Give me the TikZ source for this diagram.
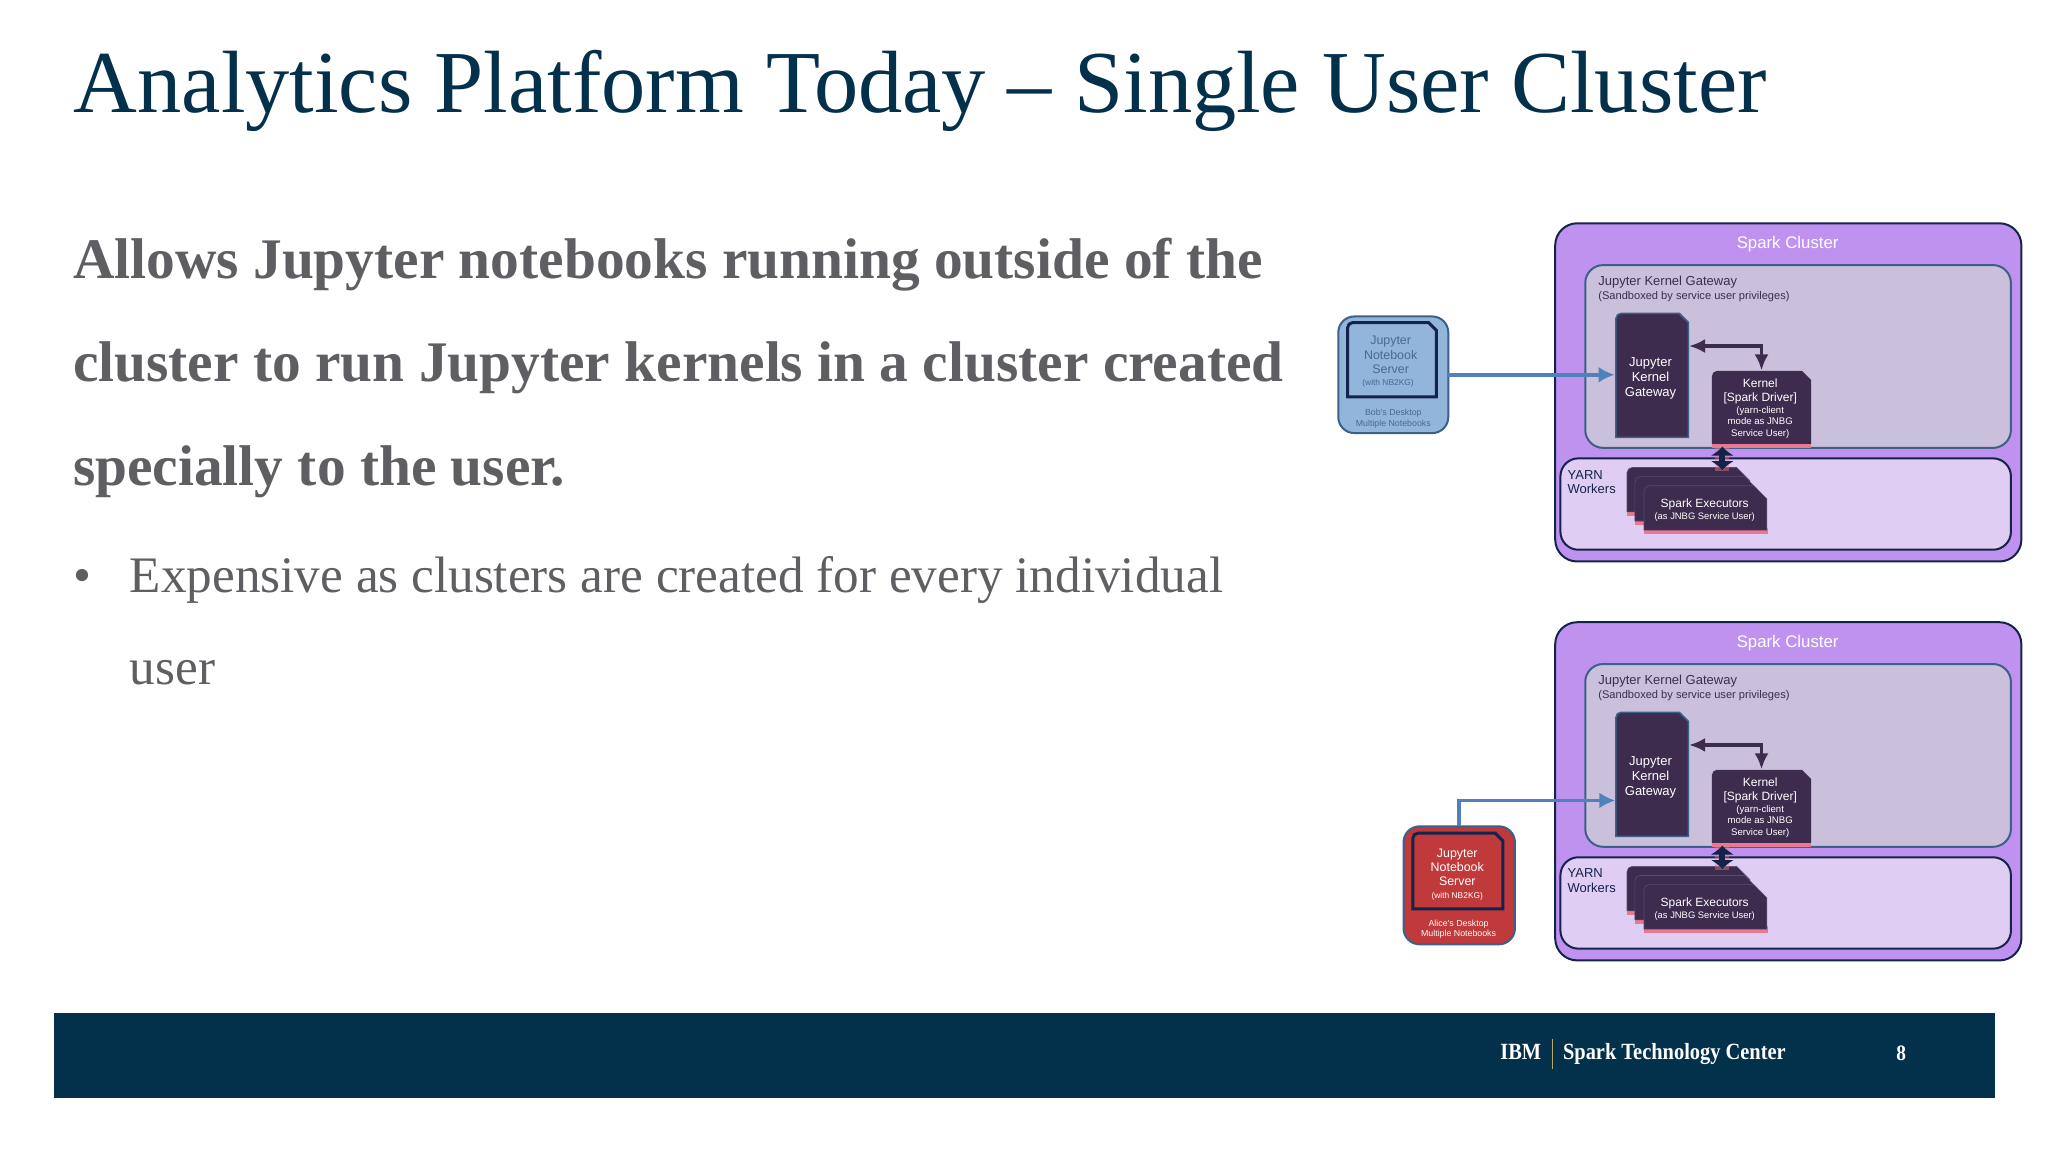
\documentclass[tikz,border=0pt]{standalone}
\usepackage{fontspec}
\setmainfont{Liberation Serif}
\setsansfont{Liberation Sans}
\newfontfamily\footfont[FakeStretch=0.88]{Liberation Serif Bold}
\usetikzlibrary{arrows.meta}

\definecolor{barblue}{HTML}{03304A}
\definecolor{bodygray}{HTML}{5F5F63}
\definecolor{clusterpurple}{HTML}{BF92F0}
\definecolor{gatelilac}{HTML}{CBC0DB}
\definecolor{yarnlilac}{HTML}{E0CDF3}
\definecolor{darkplum}{HTML}{3D2C4E}
\definecolor{stackedge}{HTML}{5A4A6E}
\definecolor{darknavy}{HTML}{14234A}
\definecolor{edgeblue}{HTML}{3D6088}
\definecolor{glowpink}{HTML}{E9798F}
\definecolor{flowblue}{HTML}{4F81BD}
\definecolor{bobblue}{HTML}{92B5DC}
\definecolor{bobtext}{HTML}{49698F}
\definecolor{alicered}{HTML}{C0393B}
\definecolor{sepgold}{HTML}{B9A95E}

% one tab shaped outline: x0, y0, x1, y1, cut
\newcommand{\tabshape}[5]{(#1,#4) -- (#1,#2+4) to[out=90,in=180] (#1+4,#2) -- (#3-#5,#2) -- (#3,#2+#5) -- (#3,#4) -- cycle}
\newcommand{\sizept}[2]{\fontsize{#1}{#2}\selectfont}

\tikzset{
  every node/.style={inner sep=0pt,outer sep=0pt},
  titletext/.style={anchor=base west,text=barblue,font=\sizept{44.2}{48}},
  leadtext/.style={anchor=base west,text=bodygray,font=\sizept{28.7}{32}\bfseries},
  bullettext/.style={anchor=base west,text=bodygray,font=\sizept{25.6}{28}},
  foottext/.style={anchor=base west,text=white,font=\footfont\sizept{11.6}{13}},
  clusterbox/.style={draw=darknavy,fill=clusterpurple,line width=1pt,rounded corners=11pt},
  gatebox/.style={draw=edgeblue,fill=gatelilac,line width=1pt,rounded corners=9pt},
  yarnbox/.style={draw=darknavy,fill=yarnlilac,line width=1pt,rounded corners=9pt},
  tabfill/.style={fill=darkplum},
  whitetext/.style={text=white,font=\sffamily\sizept{6.5}{7.5},align=center},
  kerneltext/.style={text=white,font=\sffamily\sizept{6}{7},align=center},
  smalltext/.style={text=white,font=\sffamily\sizept{4.8}{5.7},align=center},
  gatetext/.style={anchor=base west,text=darkplum,font=\sffamily\sizept{6.5}{7}},
  gatesmall/.style={anchor=base west,text=darkplum,font=\sffamily\sizept{5.55}{6}},
  desktext/.style={font=\sffamily\sizept{6.2}{7.2},align=center},
  desksmall/.style={font=\sffamily\sizept{4.4}{5.4},align=center},
  flow/.style={draw=flowblue,line width=1.9pt,-{Latex[length=8pt,width=8pt]}},
  kernelflow/.style={draw=darkplum,line width=1.7pt,{Latex[length=8pt,width=7pt]}-{Latex[length=8pt,width=7pt]}},
  driverflow/.style={draw=darknavy,line width=3pt,{Latex[length=4.5pt,width=12pt]}-{Latex[length=4.5pt,width=12pt]}},
}

\begin{document}
\begin{tikzpicture}[x=0.6529pt,y=-0.6529pt]

  \fill[white] (0,0) rectangle (1568.4,882.2);
  \useasboundingbox (0,0) rectangle (1568.4,882.2);

  % title and text
  \node[titletext] (title) at (56.5,86) {Analytics Platform Today – Single User Cluster};
  \node[leadtext] (lead1) at (56,213) {Allows Jupyter notebooks running outside of the};
  \node[leadtext] (lead2) at (56,292) {cluster to run Jupyter kernels in a cluster created};
  \node[leadtext] (lead3) at (56,371.5) {specially to the user.};
  \node[bullettext] (dot) at (56,454) {•};
  \node[bullettext] (bullet1) at (99.5,454) {Expensive as clusters are created for every individual};
  \node[bullettext] (bullet2) at (99.5,524.5) {user};

  % footer
  \fill[barblue] (41,776) rectangle (1527.5,840.5);
  \node[foottext] (ibm) at (1149,811) {IBM};
  \draw[sepgold,line width=0.7pt] (1189,796) -- (1189,819);
  \node[foottext] (stc) at (1197,811) {Spark Technology Center};
  \node[anchor=base,text=white,font=\footfont\sizept{11}{12}] (page) at (1456,812) {8};

  % the two clusters
  \foreach \i/\yy in {A/0,B/305.5} {
    \begin{scope}[shift={(0,\yy)}]
      \draw[clusterbox] (1191,171) rectangle (1548,430);
      \node[text=white,font=\sffamily\sizept{8.4}{10}] (spark\i) at (1369,187) {Spark Cluster};

      \draw[gatebox] (1214,203) rectangle (1540,343);
      \node[gatetext] (gatename\i) at (1224,218.5) {Jupyter Kernel Gateway};
      \node[gatesmall] (gatenote\i) at (1224,229.5) {(Sandboxed by service user privileges)};

      \draw[yarnbox] (1195,351) rectangle (1540,421);
      \node[anchor=north west,text=darknavy,font=\sffamily\sizept{6.5}{7.2},align=left] (yarn\i) at (1200.5,360) {YARN\\Workers};

      \draw[edgeblue,line width=0.8pt,tabfill] \tabshape{1237.5}{240}{1293}{335}{7};
      \node[whitetext,minimum width=36pt,minimum height=62pt] (gate\i) at (1264,289.5) {Jupyter\\Kernel\\Gateway};
      \coordinate (gateport\i) at (1293.5,265);

      \fill[glowpink] (1311,336) rectangle (1387,343);
      \fill[tabfill] \tabshape{1311}{284}{1387}{340}{7};
      \node[minimum width=50pt,minimum height=37pt] (kernel\i) at (1349,312) {};
      \node[kerneltext,anchor=base] (kerneltop\i) at (1348,307.5) {Kernel\\{}[Spark Driver]};
      \node[smalltext,anchor=base] (kernelnote\i) at (1348,334) {(yarn-client\\mode as JNBG\\Service User)};

      \draw[kernelflow] (gateport\i) -| (kernel\i.north);

      \foreach \dx/\dy in {0/0,6/7,13/14} {
        \fill[glowpink] (1246+\dx,390+\dy) rectangle (1341+\dx,395+\dy);
        \fill[tabfill,draw=stackedge,line width=0.3pt] \tabshape{1246+\dx}{358+\dy}{1340+\dx}{392+\dy}{10};
      }
      \node[text=white,font=\sffamily\sizept{6}{7}] (execs\i) at (1305.5,386) {Spark Executors};
      \node[text=white,font=\sffamily\sizept{4.7}{5}] (execnote\i) at (1305.5,396) {(as JNBG Service User)};

      \coordinate (drvtop\i) at (1319,342);
      \coordinate (drvbot\i) at (1319,360);
      \draw[glowpink,line width=7pt,opacity=0.45] (1319,343) -- (1319,361);
      \draw[driverflow] (drvtop\i) -- (drvbot\i);
    \end{scope}
  }

  % bob
  \node[draw=edgeblue,fill=bobblue,line width=1pt,rounded corners=8pt,minimum width=55pt,minimum height=58.3pt] (deskA) at (1067,287) {};
  \draw[darknavy,line width=1.5pt,fill=bobblue] \tabshape{1032}{247}{1100}{304}{6};
  \node[desktext,text=bobtext,anchor=base] (serverA) at (1065,286) {Jupyter\\Notebook\\Server};
  \node[desksmall,text=bobtext,anchor=base,font=\sffamily\sizept{4.2}{5}] (plusA) at (1063,295) {(with NB2KG)};
  \node[desksmall,text=bobtext,anchor=base] (ownerA) at (1067,326.5) {Bob's Desktop\\Multiple Notebooks};
  \draw[flow] (deskA.east) -- (deskA.east -| gateA.west);

  % alice
  \node[draw=edgeblue,fill=alicered,line width=1pt,rounded corners=8pt,minimum width=55.7pt,minimum height=59pt] (deskB) at (1117.5,678) {};
  \draw[darknavy,line width=1.5pt,fill=alicered] \tabshape{1082}{638}{1151}{696}{6};
  \node[desktext,text=white,anchor=base] (serverB) at (1116,678.5) {Jupyter\\Notebook\\Server};
  \node[desksmall,text=white,anchor=base,font=\sffamily\sizept{4.2}{5}] (plusB) at (1116,688) {(with NB2KG)};
  \node[desksmall,text=white,anchor=base] (ownerB) at (1117,717.5) {Alice's Desktop\\Multiple Notebooks};
  \coordinate (gateinB) at (1237,613);
  \draw[flow] (deskB.north) |- (gateinB);

\end{tikzpicture}
\end{document}
